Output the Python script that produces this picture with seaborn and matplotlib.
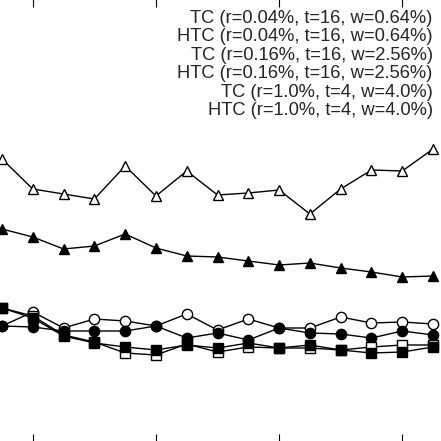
import numpy as np
import pandas as pd
import seaborn as sns
from matplotlib import pyplot as plt

# x positions (iterations) visible in the crop
steps = [0, 1, 2, 3, 4, 5, 6, 7, 8, 9, 10, 11, 12, 13, 14]
tick_steps = [1, 5, 9, 13]

# values (arbitrary units, no y axis visible)
tc_004 = [115, 129, 113, 122, 120, 115, 127, 111, 122, 113, 113, 124, 118, 119, 117]
htc_004 = [115, 114, 110, 110, 110, 115, 103, 108, 101, 113, 108, 107, 103, 110, 106]
tc_016 = [133, 125, 106, 99, 88, 86, 97, 89, 94, 93, 93, 91, 94, 96, 96]
htc_016 = [133, 123, 105, 98, 94, 91, 96, 93, 98, 93, 96, 91, 88, 89, 94]
tc_100 = [282, 252, 247, 242, 275, 245, 270, 246, 248, 251, 227, 252, 271, 270, 292]
htc_100 = [212, 204, 192, 195, 207, 193, 185, 184, 180, 176, 178, 173, 169, 164, 165]

labels = [
    "TC (r=0.04%, t=16, w=0.64%)",
    "HTC (r=0.04%, t=16, w=0.64%)",
    "TC (r=0.16%, t=16, w=2.56%)",
    "HTC (r=0.16%, t=16, w=2.56%)",
    "TC (r=1.0%, t=4, w=4.0%)",
    "HTC (r=1.0%, t=4, w=4.0%)",
]
series = [tc_004, htc_004, tc_016, htc_016, tc_100, htc_100]
markers = ["o", "o", "s", "s", "^", "^"]
fills = ["white", "black", "white", "black", "white", "black"]

sns.set_theme(style="ticks")
plt.rcParams["font.family"] = ["Liberation Sans", "DejaVu Sans"]

fig = plt.figure(figsize=(4.41, 4.41), dpi=100)
# the picture is a crop of the plot interior, so the axes spill past the canvas
ax = fig.add_axes([0, -1 / 441, 1, 443 / 441])

for vals, lab, m, fc in zip(series, labels, markers, fills):
    df = pd.DataFrame({"step": steps, "value": vals})
    sns.lineplot(data=df, x="step", y="value", ax=ax, color="black", lw=1.0,
                 marker=m, markersize=7.4, markerfacecolor=fc,
                 markeredgecolor="black", markeredgewidth=1.0, label=lab)

ax.set_xlim(-2 / 30.79, 439 / 30.79)
ax.set_ylim(-1, 442)
ax.set_xticks(tick_steps)
ax.set_yticks([])
ax.set_xlabel("")
ax.set_ylabel("")
ax.tick_params(axis="x", direction="in", length=5.5, width=0.8, color="black",
               top=True, bottom=True, labelbottom=False, labeltop=False)
for side in ["left", "right"]:
    ax.spines[side].set_visible(False)

# legend handles sit to the right of the text, outside the cropped canvas
leg = ax.legend(loc="upper right", bbox_to_anchor=(484 / 441, 1 - 10 / 441),
                bbox_transform=fig.transFigure, markerfirst=False, frameon=False,
                fontsize=13.2, labelspacing=0.08, borderpad=0, borderaxespad=0,
                handlelength=2.0, handletextpad=0.8)

plt.savefig("out.png", dpi=100)
